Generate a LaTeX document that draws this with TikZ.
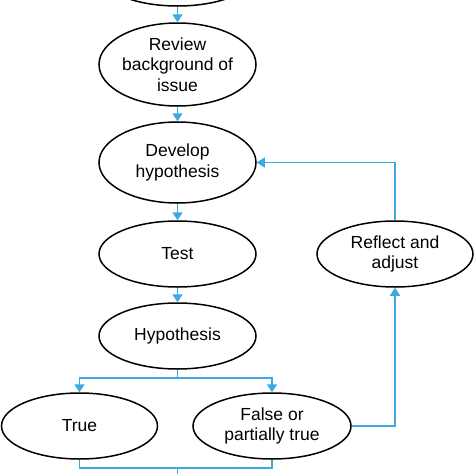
\documentclass[tikz,border=0pt]{standalone}
\usepackage{fontspec}
\setmainfont{Liberation Sans}
\usetikzlibrary{shapes.geometric,arrows.meta}
\definecolor{flowblue}{RGB}{60,170,225}
\begin{document}
\begin{tikzpicture}[x=1pt,y=-1pt,
  oval/.style={draw=black,line width=1.5pt,ellipse,inner sep=0pt,minimum width=157pt,minimum height=66pt,align=center,font=\fontsize{17.5}{20.5}\selectfont},
  link/.style={draw=flowblue,line width=1.7pt},
  arr/.style={link,-{Triangle[length=8pt,width=10pt]}}]
\useasboundingbox (0,0) rectangle (474,474);
\node[oval] (top) at (177.5,-27) {};
\node[oval,minimum height=83pt] (review) at (177.5,64.5) {Review\\background of\\issue};
\node[oval,minimum height=81pt] (develop) at (177.5,162.5) {Develop\\hypothesis};
\node[oval] (test) at (177.5,254) {Test};
\node[oval] (hyp) at (177.5,336) {Hypothesis};
\node[oval,minimum width=156pt] (true) at (79.5,426) {True};
\node[oval,minimum width=158pt] (false) at (272,426) {False or\\partially true};
\node[oval,minimum width=156pt] (reflect) at (395,254) {Reflect and\\adjust};
\coordinate (split) at (177.5,378);
\coordinate (join) at (177.5,468);
\coordinate (exit) at (177.5,480);
\draw[arr] (top) -- (review);
\draw[arr] (review) -- (develop);
\draw[arr] (develop) -- (test);
\draw[arr] (test) -- (hyp);
\draw[link] (hyp) -- (split);
\draw[arr] (split) -| (true);
\draw[arr] (split) -| (false);
\draw[link] (true.south) |- (join);
\draw[link] (false.south) |- (join);
\draw[link] (join) -- (exit);
\draw[arr] (false.east) -| (reflect.south);
\draw[arr] (reflect.north) |- (develop.east);
\end{tikzpicture}
\end{document}
